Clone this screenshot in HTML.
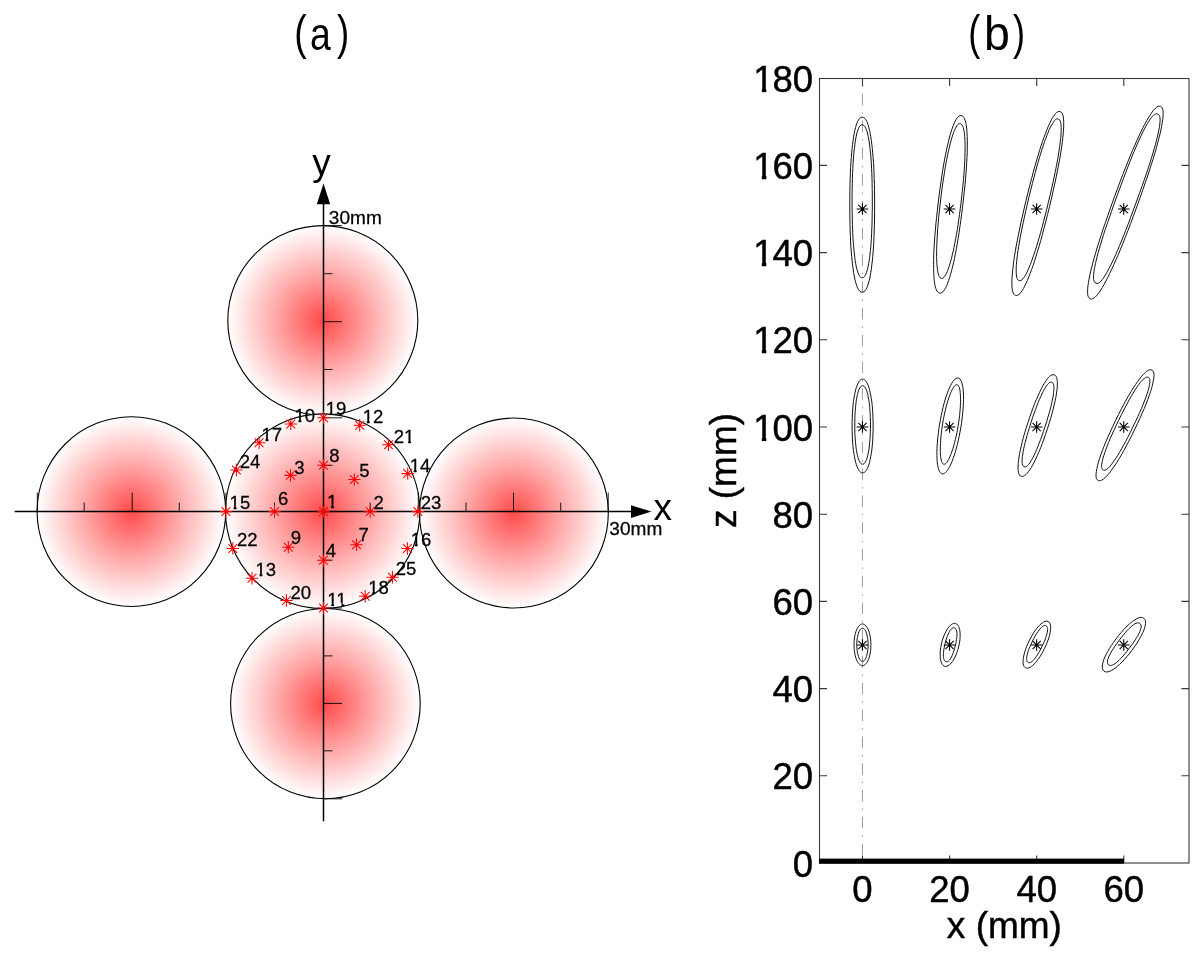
<!DOCTYPE html>
<html><head><meta charset="utf-8"><title>figure</title>
<style>
html,body{margin:0;padding:0;background:#fff;}
body{width:1204px;height:959px;overflow:hidden;position:relative;font-family:"Liberation Sans",sans-serif;}
svg{position:absolute;left:0;top:0;}
text{font-family:"Liberation Sans",sans-serif;fill:#000;}
.tk{font-size:36.5px;stroke:#000;stroke-width:0.45px;}
.lab{font-size:37px;stroke:#000;stroke-width:0.45px;}
.num{font-size:18px;stroke:#000;stroke-width:0.25px;}
.mm{font-size:18px;stroke:#000;stroke-width:0.25px;}
.ttl{font-size:48px;}
.ax{font-size:37px;}
</style></head><body>
<svg width="1204" height="959" viewBox="0 0 1204 959">
<defs>
<radialGradient id="g" cx="50%" cy="50%" r="50%">
<stop offset="0" stop-color="#ff4a4a"/>
<stop offset="0.5" stop-color="#ffa8a8"/>
<stop offset="1" stop-color="#ffffff"/>
</radialGradient>
</defs>

<defs><clipPath id="c1"><rect x="-2.00" y="-18.00" width="16.01" height="15.25"/><rect x="3.92" y="-3.75" width="2.80" height="4.75"/></clipPath><clipPath id="c10"><rect x="-2.00" y="-18.00" width="12.01" height="15.25"/><rect x="3.92" y="-3.75" width="2.80" height="4.75"/><rect x="10.01" y="-18.00" width="14.01" height="23.40"/></clipPath><clipPath id="c11"><rect x="-2.00" y="-18.00" width="12.01" height="15.25"/><rect x="3.92" y="-3.75" width="2.80" height="4.75"/><rect x="10.01" y="-18.00" width="14.01" height="15.25"/><rect x="13.93" y="-3.75" width="2.80" height="4.75"/></clipPath><clipPath id="c01"><rect x="-2.00" y="-18.00" width="12.01" height="23.40"/><rect x="10.01" y="-18.00" width="14.01" height="15.25"/><rect x="13.93" y="-3.75" width="2.80" height="4.75"/></clipPath><clipPath id="c1b"><rect x="-2.00" y="-36.50" width="26.30" height="32.36"/><rect x="8.56" y="-5.14" width="4.45" height="6.14"/></clipPath></defs>
<g id="panelA">
<ellipse cx="131.4" cy="511.6" rx="94.3" ry="94.9" fill="url(#g)" stroke="#000" stroke-width="1.1"/>
<ellipse cx="513.9" cy="513.0" rx="94.4" ry="95.0" fill="url(#g)" stroke="#000" stroke-width="1.1"/>
<ellipse cx="322.8" cy="320.4" rx="95.0" ry="94.8" fill="url(#g)" stroke="#000" stroke-width="1.1"/>
<ellipse cx="325.4" cy="703.6" rx="94.8" ry="95.1" fill="url(#g)" stroke="#000" stroke-width="1.1"/>
<ellipse cx="322.7" cy="511.2" rx="97.2" ry="97.3" fill="url(#g)" stroke="#000" stroke-width="1.1"/>
<path d="M14.7 511.6H635M323.5 821.3V200" stroke="#000" stroke-width="1.5" fill="none"/>
<path d="M651.5 511.6L631 505.3L631 517.9Z" fill="#000"/>
<path d="M323.5 183.6L316.8 204.2L330.2 204.2Z" fill="#000"/>
<path d="M37.3 511.6v-19M84.2 511.6v-9M132.2 511.6v-19M179.3 511.6v-9M225.9 511.6v-19M274.5 511.6v-9M323.5 511.6v-19M370.2 511.6v-9M418.3 511.6v-19M466.0 511.6v-9M513.5 511.6v-19M560.7 511.6v-9M608.2 511.6v-19M323.5 225.6h18.5M323.5 273.7h9.0M323.5 321.7h18.5M323.5 369.5h9.0M323.5 417.8h18.5M323.5 465.3h9.0M323.5 511.6h18.5M323.5 560.2h9.0M323.5 608.0h18.5M323.5 655.9h9.0M323.5 703.4h18.5M323.5 750.8h9.0M323.5 798.8h18.5" stroke="#000" stroke-width="0.9" fill="none"/>
<path d="M317.30 511.60L329.70 511.60M319.12 507.22L327.88 515.98M323.50 505.40L323.50 517.80M327.88 507.22L319.12 515.98M364.00 511.60L376.40 511.60M365.82 507.22L374.58 515.98M370.20 505.40L370.20 517.80M374.58 507.22L365.82 515.98M284.30 475.35L296.70 475.35M286.12 470.97L294.88 479.73M290.50 469.15L290.50 481.55M294.88 470.97L286.12 479.73M317.30 560.20L329.70 560.20M319.12 555.82L327.88 564.58M323.50 554.00L323.50 566.40M327.88 555.82L319.12 564.58M348.10 479.50L360.50 479.50M349.92 475.12L358.68 483.88M354.30 473.30L354.30 485.70M358.68 475.12L349.92 483.88M268.30 511.60L280.70 511.60M270.12 507.22L278.88 515.98M274.50 505.40L274.50 517.80M278.88 507.22L270.12 515.98M350.30 544.80L362.70 544.80M352.12 540.42L360.88 549.18M356.50 538.60L356.50 551.00M360.88 540.42L352.12 549.18M317.30 465.30L329.70 465.30M319.12 460.92L327.88 469.68M323.50 459.10L323.50 471.50M327.88 460.92L319.12 469.68M282.10 547.15L294.50 547.15M283.92 542.77L292.68 551.53M288.30 540.95L288.30 553.35M292.68 542.77L283.92 551.53M284.60 423.90L297.00 423.90M286.42 419.52L295.18 428.28M290.80 417.70L290.80 430.10M295.18 419.52L286.42 428.28M317.30 608.00L329.70 608.00M319.12 603.62L327.88 612.38M323.50 601.80L323.50 614.20M327.88 603.62L319.12 612.38M353.50 425.30L365.90 425.30M355.32 420.92L364.08 429.68M359.70 419.10L359.70 431.50M364.08 420.92L355.32 429.68M245.80 578.30L258.20 578.30M247.62 573.92L256.38 582.68M252.00 572.10L252.00 584.50M256.38 573.92L247.62 582.68M401.50 473.60L413.90 473.60M403.32 469.22L412.08 477.98M407.70 467.40L407.70 479.80M412.08 469.22L403.32 477.98M219.70 511.60L232.10 511.60M221.52 507.22L230.28 515.98M225.90 505.40L225.90 517.80M230.28 507.22L221.52 515.98M401.20 548.55L413.60 548.55M403.02 544.17L411.78 552.93M407.40 542.35L407.40 554.75M411.78 544.17L403.02 552.93M252.90 442.70L265.30 442.70M254.72 438.32L263.48 447.08M259.10 436.50L259.10 448.90M263.48 438.32L254.72 447.08M359.00 596.20L371.40 596.20M360.82 591.82L369.58 600.58M365.20 590.00L365.20 602.40M369.58 591.82L360.82 600.58M317.30 417.80L329.70 417.80M319.12 413.42L327.88 422.18M323.50 411.60L323.50 424.00M327.88 413.42L319.12 422.18M280.30 600.50L292.70 600.50M282.12 596.12L290.88 604.88M286.50 594.30L286.50 606.70M290.88 596.12L282.12 604.88M382.30 444.70L394.70 444.70M384.12 440.32L392.88 449.08M388.50 438.50L388.50 450.90M392.88 440.32L384.12 449.08M226.60 548.40L239.00 548.40M228.42 544.02L237.18 552.78M232.80 542.20L232.80 554.60M237.18 544.02L228.42 552.78M411.70 511.60L424.10 511.60M413.52 507.22L422.28 515.98M417.90 505.40L417.90 517.80M422.28 507.22L413.52 515.98M230.20 470.00L242.60 470.00M232.02 465.62L240.78 474.38M236.40 463.80L236.40 476.20M240.78 465.62L232.02 474.38M386.25 577.20L398.65 577.20M388.07 572.82L396.83 581.58M392.45 571.00L392.45 583.40M396.83 572.82L388.07 581.58" stroke="#ff0000" stroke-width="1.05" fill="none"/>
<text class="num" transform="translate(326.95 508.05) scale(1.03 1)" clip-path="url(#c1)">1</text>
<text class="num" transform="translate(373.40 508.55) scale(1.03 1)">2</text>
<text class="num" transform="translate(294.30 473.75) scale(1.03 1)">3</text>
<text class="num" transform="translate(325.80 556.90) scale(1.03 1)">4</text>
<text class="num" transform="translate(359.30 477.35) scale(1.03 1)">5</text>
<text class="num" transform="translate(278.10 505.35) scale(1.03 1)">6</text>
<text class="num" transform="translate(358.60 541.45) scale(1.03 1)">7</text>
<text class="num" transform="translate(329.30 461.85) scale(1.03 1)">8</text>
<text class="num" transform="translate(290.70 543.75) scale(1.03 1)">9</text>
<text class="num" transform="translate(294.40 421.65) scale(1.03 1)" clip-path="url(#c10)">10</text>
<text class="num" transform="translate(327.20 605.55) scale(1.03 1)" clip-path="url(#c11)">11</text>
<text class="num" transform="translate(362.80 423.45) scale(1.03 1)" clip-path="url(#c10)">12</text>
<text class="num" transform="translate(255.45 576.25) scale(1.03 1)" clip-path="url(#c10)">13</text>
<text class="num" transform="translate(409.70 471.95) scale(1.03 1)" clip-path="url(#c10)">14</text>
<text class="num" transform="translate(229.60 509.15) scale(1.03 1)" clip-path="url(#c10)">15</text>
<text class="num" transform="translate(410.70 546.25) scale(1.03 1)" clip-path="url(#c10)">16</text>
<text class="num" transform="translate(261.50 440.55) scale(1.03 1)" clip-path="url(#c10)">17</text>
<text class="num" transform="translate(368.20 593.65) scale(1.03 1)" clip-path="url(#c10)">18</text>
<text class="num" transform="translate(325.70 414.50) scale(1.03 1)" clip-path="url(#c10)">19</text>
<text class="num" transform="translate(290.50 598.65) scale(1.03 1)">20</text>
<text class="num" transform="translate(393.80 442.65) scale(1.03 1)" clip-path="url(#c01)">21</text>
<text class="num" transform="translate(237.05 545.95) scale(1.03 1)">22</text>
<text class="num" transform="translate(420.70 509.45) scale(1.03 1)">23</text>
<text class="num" transform="translate(239.80 468.25) scale(1.03 1)">24</text>
<text class="num" transform="translate(395.70 574.90) scale(1.03 1)">25</text>
<text class="mm" transform="translate(328.8 223.6) scale(1.06 1)">30mm</text>
<text class="mm" transform="translate(609.3 534.8) scale(1.06 1)">30mm</text>
<text class="ax" x="653.5" y="520.3">x</text>
<text class="ax" x="312.2" y="175">y</text>
<text class="ttl" transform="translate(294.28 49.1) scale(0.778 1.000)">(</text>
<text class="ttl" transform="translate(310.11 50.4) scale(0.779 0.945)">a</text>
<text class="ttl" transform="translate(337.09 49.1) scale(0.762 1.000)">)</text>
</g>
<g id="panelB">
<rect x="819.5" y="78.5" width="369.5" height="784.5" fill="none" stroke="#383838" stroke-width="1.1"/>
<path d="M862.5 863V855.5M862.5 78.5V86.0M949.6 863V855.5M949.6 78.5V86.0M1036.7 863V855.5M1036.7 78.5V86.0M1123.8 863V855.5M1123.8 78.5V86.0M819.5 775.8H827.0M1189 775.8H1181.5M819.5 688.6H827.0M1189 688.6H1181.5M819.5 601.4H827.0M1189 601.4H1181.5M819.5 514.2H827.0M1189 514.2H1181.5M819.5 427.0H827.0M1189 427.0H1181.5M819.5 339.8H827.0M1189 339.8H1181.5M819.5 252.6H827.0M1189 252.6H1181.5M819.5 165.4H827.0M1189 165.4H1181.5" stroke="#383838" stroke-width="1.1" fill="none"/>
<path d="M862.45 78.5V863" stroke="#666" stroke-width="0.65" stroke-dasharray="11.5 6.84 1.6 6.84" stroke-dashoffset="11.5" fill="none"/>
<rect x="819" y="858.6" width="305" height="5.1" fill="#000"/>
<g fill="none" stroke="#111" stroke-width="1"><path d="M862.2 117.2L863.3 117.4L864.2 117.9L865.1 118.7L865.9 119.9L866.7 121.3L867.5 123.1L868.2 125.3L868.9 127.7L869.6 130.4L870.2 133.5L870.8 136.8L871.3 140.4L871.8 144.3L872.3 148.4L872.7 152.8L873.1 157.4L873.5 162.3L873.8 167.4L874.0 172.8L874.2 178.4L874.4 184.2L874.5 190.4L874.6 197.0L874.6 204.7L874.6 212.4L874.5 219.0L874.4 225.2L874.2 231.0L874.0 236.6L873.8 242.0L873.5 247.1L873.1 252.0L872.7 256.6L872.3 261.0L871.8 265.1L871.3 269.0L870.8 272.6L870.2 275.9L869.6 279.0L868.9 281.7L868.2 284.1L867.5 286.3L866.7 288.1L865.9 289.5L865.1 290.7L864.2 291.5L863.3 292.0L862.2 292.2L861.1 292.0L860.2 291.5L859.3 290.7L858.5 289.5L857.7 288.1L856.9 286.3L856.2 284.1L855.5 281.7L854.8 279.0L854.2 275.9L853.6 272.6L853.1 269.0L852.6 265.1L852.1 261.0L851.7 256.6L851.3 252.0L850.9 247.1L850.6 242.0L850.4 236.6L850.2 231.0L850.0 225.2L849.9 219.0L849.8 212.4L849.8 204.7L849.8 197.0L849.9 190.4L850.0 184.2L850.2 178.4L850.4 172.8L850.6 167.4L850.9 162.3L851.3 157.4L851.7 152.8L852.1 148.4L852.6 144.3L853.1 140.4L853.6 136.8L854.2 133.5L854.8 130.4L855.5 127.7L856.2 125.3L856.9 123.1L857.7 121.3L858.5 119.9L859.3 118.7L860.2 117.9L861.1 117.4Z"/><path d="M862.2 124.8L863.1 124.9L863.9 125.4L864.6 126.1L865.2 127.1L865.9 128.4L866.5 130.0L867.1 131.8L867.7 134.0L868.2 136.4L868.7 139.0L869.2 141.9L869.6 145.1L870.0 148.5L870.4 152.1L870.8 155.9L871.1 160.0L871.4 164.2L871.6 168.7L871.8 173.4L872.0 178.3L872.1 183.4L872.2 188.7L872.3 194.5L872.3 201.2L872.3 208.0L872.2 213.8L872.1 219.1L872.0 224.2L871.8 229.1L871.6 233.8L871.4 238.3L871.1 242.5L870.8 246.6L870.4 250.4L870.0 254.0L869.6 257.4L869.2 260.6L868.7 263.5L868.2 266.1L867.7 268.5L867.1 270.7L866.5 272.5L865.9 274.1L865.2 275.4L864.6 276.4L863.9 277.1L863.1 277.6L862.2 277.7L861.3 277.6L860.5 277.1L859.8 276.4L859.2 275.4L858.5 274.1L857.9 272.5L857.3 270.7L856.7 268.5L856.2 266.1L855.7 263.5L855.2 260.6L854.8 257.4L854.4 254.0L854.0 250.4L853.6 246.6L853.3 242.5L853.0 238.3L852.8 233.8L852.6 229.1L852.4 224.2L852.3 219.1L852.2 213.8L852.1 208.0L852.1 201.3L852.1 194.5L852.2 188.7L852.3 183.4L852.4 178.3L852.6 173.4L852.8 168.7L853.0 164.2L853.3 160.0L853.6 155.9L854.0 152.1L854.4 148.5L854.8 145.1L855.2 141.9L855.7 139.0L856.2 136.4L856.7 134.0L857.3 131.8L857.9 130.0L858.5 128.4L859.2 127.1L859.8 126.1L860.5 125.4L861.3 124.9Z"/><path d="M961.1 115.6L962.2 115.9L963.1 116.5L963.8 117.5L964.5 118.7L965.1 120.3L965.7 122.3L966.1 124.5L966.5 127.0L966.8 129.9L967.0 133.0L967.2 136.4L967.3 140.1L967.3 144.1L967.3 148.3L967.2 152.8L967.0 157.6L966.7 162.6L966.4 167.8L966.0 173.2L965.5 178.9L965.0 184.9L964.3 191.2L963.6 197.9L962.7 205.8L961.7 213.8L960.8 220.5L959.9 226.7L959.1 232.6L958.2 238.3L957.3 243.7L956.4 248.8L955.4 253.7L954.5 258.4L953.5 262.8L952.5 266.9L951.6 270.7L950.6 274.3L949.6 277.6L948.6 280.6L947.6 283.3L946.7 285.7L945.7 287.7L944.7 289.4L943.8 290.8L942.8 291.9L941.9 292.6L940.9 293.0L939.8 293.1L938.7 292.8L937.8 292.2L937.1 291.2L936.4 290.0L935.8 288.4L935.2 286.4L934.8 284.2L934.4 281.7L934.1 278.8L933.9 275.7L933.7 272.3L933.6 268.6L933.6 264.6L933.6 260.4L933.7 255.9L933.9 251.1L934.2 246.1L934.5 240.9L934.9 235.5L935.4 229.8L935.9 223.8L936.6 217.5L937.3 210.8L938.2 202.9L939.2 194.9L940.1 188.2L941.0 182.0L941.8 176.1L942.7 170.4L943.6 165.0L944.5 159.9L945.5 155.0L946.4 150.3L947.4 145.9L948.4 141.8L949.3 138.0L950.3 134.4L951.3 131.1L952.3 128.1L953.3 125.4L954.2 123.0L955.2 121.0L956.2 119.3L957.1 117.9L958.1 116.8L959.0 116.1L960.0 115.7Z"/><path d="M960.2 123.6L961.0 123.9L961.7 124.4L962.3 125.3L962.9 126.4L963.3 127.8L963.8 129.5L964.1 131.5L964.5 133.8L964.7 136.3L964.9 139.2L965.0 142.2L965.1 145.5L965.1 149.1L965.0 152.8L964.9 156.8L964.8 161.0L964.5 165.4L964.2 170.0L963.9 174.7L963.5 179.7L963.0 184.8L962.4 190.2L961.8 195.8L961.1 202.2L960.3 208.6L959.5 214.3L958.8 219.6L958.0 224.7L957.3 229.6L956.5 234.3L955.7 238.8L954.8 243.2L954.0 247.3L953.2 251.2L952.3 254.8L951.5 258.3L950.6 261.5L949.8 264.4L948.9 267.1L948.1 269.5L947.3 271.6L946.4 273.5L945.6 275.0L944.8 276.3L944.0 277.3L943.2 278.0L942.4 278.3L941.5 278.4L940.7 278.1L940.0 277.6L939.4 276.7L938.8 275.6L938.4 274.2L937.9 272.5L937.6 270.5L937.3 268.2L937.0 265.7L936.8 262.8L936.7 259.8L936.6 256.5L936.6 252.9L936.7 249.2L936.8 245.2L937.0 241.0L937.2 236.6L937.5 232.0L937.8 227.3L938.3 222.3L938.7 217.2L939.3 211.8L939.9 206.2L940.7 199.8L941.4 193.4L942.2 187.7L942.9 182.4L943.7 177.3L944.5 172.4L945.2 167.7L946.0 163.2L946.9 158.8L947.7 154.7L948.5 150.8L949.4 147.2L950.2 143.7L951.1 140.5L951.9 137.6L952.8 134.9L953.6 132.5L954.5 130.4L955.3 128.5L956.1 127.0L956.9 125.7L957.7 124.7L958.5 124.0L959.3 123.7Z"/><path d="M1059.9 111.5L1061.0 112.0L1061.7 112.7L1062.4 113.8L1062.9 115.2L1063.3 116.9L1063.5 118.9L1063.7 121.3L1063.7 123.9L1063.7 126.9L1063.5 130.2L1063.2 133.8L1062.8 137.6L1062.3 141.8L1061.8 146.2L1061.1 150.8L1060.3 155.7L1059.4 160.9L1058.3 166.3L1057.2 172.0L1056.0 177.9L1054.7 184.1L1053.2 190.7L1051.6 197.8L1049.6 206.3L1047.5 214.8L1045.7 221.8L1044.0 228.3L1042.4 234.5L1040.8 240.3L1039.2 245.9L1037.6 251.1L1036.1 256.2L1034.6 260.9L1033.1 265.4L1031.6 269.6L1030.1 273.5L1028.7 277.1L1027.4 280.4L1026.0 283.4L1024.7 286.1L1023.5 288.4L1022.3 290.4L1021.1 292.1L1020.0 293.5L1018.9 294.5L1017.8 295.1L1016.8 295.4L1015.7 295.4L1014.6 294.9L1013.9 294.2L1013.2 293.1L1012.7 291.7L1012.3 290.0L1012.1 288.0L1011.9 285.6L1011.9 283.0L1011.9 280.0L1012.1 276.7L1012.4 273.1L1012.8 269.3L1013.3 265.1L1013.8 260.7L1014.5 256.1L1015.3 251.2L1016.2 246.0L1017.3 240.6L1018.4 234.9L1019.6 229.0L1020.9 222.8L1022.4 216.2L1024.0 209.1L1026.0 200.6L1028.1 192.1L1029.9 185.1L1031.6 178.6L1033.2 172.4L1034.8 166.6L1036.4 161.0L1038.0 155.8L1039.5 150.7L1041.0 146.0L1042.5 141.5L1044.0 137.3L1045.5 133.4L1046.9 129.8L1048.2 126.5L1049.6 123.5L1050.9 120.8L1052.1 118.5L1053.3 116.5L1054.5 114.8L1055.6 113.4L1056.7 112.4L1057.8 111.8L1058.8 111.5Z"/><path d="M1058.1 118.9L1059.0 119.3L1059.7 119.9L1060.2 120.9L1060.6 122.1L1060.9 123.5L1061.1 125.3L1061.2 127.3L1061.2 129.7L1061.1 132.2L1061.0 135.1L1060.7 138.2L1060.3 141.6L1059.9 145.2L1059.3 149.0L1058.7 153.1L1058.0 157.4L1057.2 161.9L1056.3 166.6L1055.3 171.6L1054.2 176.8L1053.0 182.3L1051.7 188.1L1050.3 194.4L1048.4 202.1L1046.6 209.8L1045.0 216.0L1043.5 221.8L1042.1 227.2L1040.7 232.4L1039.3 237.2L1037.9 241.9L1036.6 246.3L1035.3 250.4L1034.0 254.3L1032.7 258.0L1031.5 261.4L1030.3 264.6L1029.1 267.5L1028.0 270.1L1026.9 272.4L1025.8 274.5L1024.8 276.2L1023.8 277.7L1022.9 278.9L1021.9 279.8L1021.1 280.4L1020.2 280.6L1019.2 280.6L1018.4 280.2L1017.7 279.6L1017.2 278.6L1016.8 277.4L1016.5 276.0L1016.3 274.2L1016.2 272.2L1016.2 269.8L1016.2 267.3L1016.4 264.4L1016.7 261.3L1017.0 257.9L1017.5 254.3L1018.0 250.5L1018.7 246.4L1019.4 242.1L1020.2 237.6L1021.1 232.9L1022.1 227.9L1023.2 222.7L1024.4 217.2L1025.7 211.4L1027.1 205.1L1028.9 197.4L1030.8 189.7L1032.4 183.5L1033.9 177.7L1035.3 172.3L1036.7 167.1L1038.1 162.3L1039.4 157.6L1040.8 153.2L1042.1 149.1L1043.4 145.2L1044.6 141.5L1045.9 138.1L1047.1 134.9L1048.3 132.0L1049.4 129.4L1050.5 127.1L1051.6 125.0L1052.6 123.3L1053.6 121.8L1054.5 120.6L1055.4 119.7L1056.3 119.1L1057.2 118.9Z"/><path d="M1160.4 106.4L1161.4 107.0L1162.1 107.9L1162.6 109.0L1163.0 110.5L1163.1 112.4L1163.1 114.5L1163.0 117.0L1162.7 119.8L1162.2 122.9L1161.6 126.3L1160.9 130.0L1160.0 134.0L1158.9 138.3L1157.7 142.9L1156.4 147.8L1154.9 152.9L1153.3 158.3L1151.5 163.9L1149.6 169.9L1147.6 176.1L1145.3 182.7L1142.9 189.7L1140.2 197.3L1136.8 206.8L1133.3 216.3L1130.5 223.8L1127.9 230.7L1125.3 237.2L1122.9 243.3L1120.6 249.0L1118.3 254.5L1116.0 259.7L1113.9 264.6L1111.8 269.1L1109.7 273.4L1107.8 277.4L1105.9 281.0L1104.1 284.4L1102.4 287.4L1100.7 290.0L1099.2 292.4L1097.7 294.4L1096.3 296.0L1095.0 297.3L1093.8 298.2L1092.6 298.8L1091.5 299.0L1090.3 298.8L1089.3 298.2L1088.6 297.3L1088.1 296.2L1087.7 294.7L1087.6 292.8L1087.6 290.7L1087.7 288.2L1088.0 285.4L1088.5 282.3L1089.1 278.9L1089.8 275.2L1090.7 271.2L1091.8 266.9L1093.0 262.3L1094.3 257.4L1095.8 252.3L1097.4 246.9L1099.2 241.3L1101.1 235.3L1103.1 229.1L1105.4 222.5L1107.8 215.5L1110.5 207.9L1113.9 198.4L1117.4 188.9L1120.2 181.4L1122.8 174.5L1125.4 168.0L1127.8 161.9L1130.1 156.2L1132.4 150.7L1134.7 145.5L1136.8 140.6L1138.9 136.1L1141.0 131.8L1142.9 127.8L1144.8 124.2L1146.6 120.8L1148.3 117.8L1150.0 115.2L1151.5 112.8L1153.0 110.8L1154.4 109.2L1155.7 107.9L1156.9 107.0L1158.1 106.4L1159.2 106.2Z"/><path d="M1157.6 114.1L1158.6 114.6L1159.2 115.3L1159.7 116.3L1159.9 117.5L1160.1 119.1L1160.1 120.9L1159.9 122.9L1159.7 125.2L1159.3 127.8L1158.7 130.7L1158.1 133.8L1157.3 137.2L1156.4 140.8L1155.4 144.7L1154.2 148.8L1152.9 153.2L1151.5 157.8L1150.0 162.7L1148.3 167.9L1146.5 173.3L1144.5 179.2L1142.3 185.5L1139.7 192.6L1136.3 202.1L1132.8 211.5L1130.2 218.6L1127.9 224.8L1125.6 230.6L1123.5 235.9L1121.5 241.0L1119.5 245.7L1117.6 250.2L1115.8 254.4L1114.0 258.3L1112.3 261.9L1110.7 265.3L1109.1 268.3L1107.6 271.1L1106.2 273.7L1104.8 275.9L1103.5 277.9L1102.3 279.5L1101.2 280.9L1100.1 282.0L1099.1 282.8L1098.1 283.2L1097.2 283.4L1096.0 283.1L1095.0 282.6L1094.4 281.9L1094.0 280.9L1093.7 279.7L1093.5 278.1L1093.5 276.3L1093.7 274.3L1093.9 272.0L1094.3 269.4L1094.9 266.5L1095.5 263.4L1096.3 260.0L1097.2 256.4L1098.2 252.5L1099.4 248.4L1100.7 244.0L1102.1 239.4L1103.6 234.5L1105.3 229.3L1107.2 223.9L1109.2 218.0L1111.4 211.7L1113.9 204.6L1117.3 195.1L1120.8 185.7L1123.4 178.6L1125.8 172.4L1128.0 166.6L1130.1 161.3L1132.1 156.2L1134.1 151.5L1136.0 147.0L1137.8 142.8L1139.6 138.9L1141.3 135.3L1142.9 131.9L1144.5 128.9L1146.0 126.1L1147.4 123.5L1148.8 121.3L1150.1 119.3L1151.3 117.7L1152.4 116.3L1153.5 115.2L1154.5 114.4L1155.5 114.0L1156.5 113.8Z"/><path d="M862.6 379.1L863.6 379.3L864.6 379.8L865.5 380.6L866.4 381.8L867.2 383.3L868.0 385.1L868.8 387.2L869.5 389.6L870.1 392.3L870.7 395.2L871.3 398.4L871.8 401.8L872.2 405.3L872.5 409.1L872.8 413.1L872.9 417.1L873.1 421.4L873.1 426.0L873.1 430.6L872.9 434.9L872.8 438.9L872.5 442.9L872.2 446.7L871.8 450.2L871.3 453.6L870.7 456.8L870.1 459.7L869.5 462.4L868.8 464.8L868.0 466.9L867.2 468.7L866.4 470.2L865.5 471.4L864.6 472.2L863.6 472.7L862.6 472.9L861.6 472.7L860.6 472.2L859.7 471.4L858.8 470.2L858.0 468.7L857.2 466.9L856.4 464.8L855.7 462.4L855.1 459.7L854.5 456.8L853.9 453.6L853.4 450.2L853.0 446.7L852.7 442.9L852.4 438.9L852.3 434.9L852.1 430.6L852.1 426.0L852.1 421.4L852.3 417.1L852.4 413.1L852.7 409.1L853.0 405.3L853.4 401.8L853.9 398.4L854.5 395.2L855.1 392.3L855.7 389.6L856.4 387.2L857.2 385.1L858.0 383.3L858.8 381.8L859.7 380.6L860.6 379.8L861.6 379.3Z"/><path d="M862.6 385.7L863.4 385.8L864.1 386.3L864.8 387.0L865.4 388.0L866.1 389.2L866.7 390.7L867.2 392.5L867.8 394.5L868.2 396.7L868.7 399.2L869.1 401.8L869.4 404.7L869.7 407.7L870.0 410.8L870.2 414.1L870.3 417.5L870.4 421.1L870.5 424.9L870.4 428.8L870.3 432.4L870.2 435.8L870.0 439.1L869.7 442.2L869.4 445.2L869.1 448.1L868.7 450.7L868.2 453.2L867.8 455.4L867.2 457.4L866.7 459.2L866.1 460.7L865.4 461.9L864.8 462.9L864.1 463.6L863.4 464.1L862.6 464.2L861.8 464.1L861.1 463.6L860.4 462.9L859.8 461.9L859.1 460.7L858.5 459.2L858.0 457.4L857.4 455.4L857.0 453.2L856.5 450.7L856.1 448.1L855.8 445.2L855.5 442.2L855.2 439.1L855.0 435.8L854.9 432.4L854.8 428.8L854.8 425.0L854.8 421.1L854.9 417.5L855.0 414.1L855.2 410.8L855.5 407.7L855.8 404.7L856.1 401.8L856.5 399.2L857.0 396.7L857.4 394.5L858.0 392.5L858.5 390.7L859.1 389.2L859.8 388.0L860.4 387.0L861.1 386.3L861.8 385.8Z"/><path d="M958.1 377.9L959.1 378.3L959.9 379.0L960.7 380.0L961.4 381.4L961.9 383.1L962.4 385.1L962.9 387.5L963.2 390.1L963.4 393.0L963.5 396.2L963.5 399.5L963.4 403.1L963.2 406.9L962.9 410.8L962.5 414.9L962.0 419.0L961.5 423.3L960.8 427.7L960.0 432.0L959.2 436.2L958.3 440.3L957.4 444.3L956.4 448.1L955.4 451.7L954.3 455.1L953.2 458.3L952.1 461.3L950.9 464.0L949.8 466.3L948.7 468.4L947.5 470.2L946.4 471.6L945.3 472.7L944.3 473.5L943.2 473.8L942.3 473.9L941.3 473.5L940.5 472.8L939.7 471.8L939.0 470.4L938.5 468.7L938.0 466.7L937.5 464.3L937.2 461.7L937.0 458.8L936.9 455.6L936.9 452.3L937.0 448.7L937.2 444.9L937.5 441.0L937.9 436.9L938.4 432.8L938.9 428.5L939.6 424.1L940.4 419.8L941.2 415.6L942.1 411.5L943.0 407.5L944.0 403.7L945.0 400.1L946.1 396.7L947.2 393.5L948.3 390.5L949.5 387.8L950.6 385.5L951.7 383.4L952.9 381.6L954.0 380.2L955.1 379.1L956.1 378.3L957.2 378.0Z"/><path d="M957.0 384.7L957.7 385.0L958.3 385.5L958.8 386.4L959.3 387.6L959.7 389.0L960.0 390.7L960.2 392.6L960.4 394.8L960.5 397.3L960.6 399.9L960.5 402.7L960.4 405.7L960.2 408.8L959.9 412.1L959.6 415.4L959.2 418.8L958.7 422.3L958.1 425.8L957.5 429.2L956.9 432.7L956.2 436.0L955.4 439.3L954.6 442.5L953.8 445.5L953.0 448.4L952.1 451.0L951.2 453.5L950.3 455.8L949.4 457.8L948.6 459.6L947.7 461.1L946.9 462.3L946.1 463.3L945.3 463.9L944.5 464.2L943.8 464.3L943.2 464.0L942.6 463.5L942.1 462.6L941.6 461.4L941.2 460.0L940.9 458.3L940.6 456.4L940.4 454.2L940.3 451.7L940.3 449.1L940.4 446.3L940.5 443.3L940.7 440.2L940.9 436.9L941.3 433.6L941.7 430.2L942.2 426.7L942.7 423.2L943.3 419.8L944.0 416.3L944.7 413.0L945.5 409.7L946.2 406.5L947.1 403.5L947.9 400.6L948.8 398.0L949.7 395.5L950.5 393.2L951.4 391.2L952.3 389.4L953.2 387.9L954.0 386.7L954.8 385.7L955.6 385.1L956.3 384.8Z"/><path d="M1054.2 374.8L1055.2 375.3L1056.0 376.2L1056.5 377.3L1057.0 378.8L1057.2 380.6L1057.4 382.7L1057.3 385.1L1057.2 387.8L1056.8 390.8L1056.4 394.1L1055.8 397.6L1055.0 401.3L1054.1 405.2L1053.1 409.4L1052.0 413.8L1050.7 418.3L1049.2 423.2L1047.4 428.7L1045.6 434.2L1043.9 439.0L1042.3 443.5L1040.7 447.7L1039.0 451.6L1037.4 455.4L1035.8 458.8L1034.3 462.0L1032.7 464.9L1031.3 467.5L1029.8 469.8L1028.4 471.7L1027.1 473.4L1025.8 474.7L1024.6 475.6L1023.4 476.2L1022.3 476.4L1021.2 476.3L1020.2 475.8L1019.4 474.9L1018.9 473.8L1018.4 472.3L1018.2 470.5L1018.0 468.4L1018.1 466.0L1018.2 463.3L1018.6 460.3L1019.0 457.0L1019.6 453.5L1020.4 449.8L1021.3 445.9L1022.3 441.7L1023.4 437.3L1024.7 432.8L1026.2 427.9L1028.0 422.4L1029.8 416.9L1031.5 412.1L1033.1 407.6L1034.7 403.4L1036.4 399.5L1038.0 395.7L1039.6 392.3L1041.1 389.1L1042.7 386.2L1044.1 383.6L1045.6 381.3L1047.0 379.4L1048.3 377.7L1049.6 376.4L1050.8 375.5L1052.0 374.9L1053.1 374.7Z"/><path d="M1051.8 382.3L1052.6 382.7L1053.1 383.3L1053.5 384.2L1053.8 385.4L1053.9 386.8L1053.9 388.5L1053.8 390.4L1053.6 392.6L1053.3 395.0L1052.9 397.6L1052.3 400.4L1051.6 403.5L1050.9 406.7L1050.0 410.1L1049.0 413.8L1047.8 417.6L1046.6 421.8L1045.0 426.8L1043.3 431.8L1041.9 435.9L1040.5 439.7L1039.2 443.2L1037.9 446.5L1036.6 449.6L1035.4 452.4L1034.2 455.1L1033.0 457.4L1031.8 459.6L1030.7 461.4L1029.7 463.1L1028.7 464.4L1027.7 465.5L1026.8 466.3L1025.9 466.8L1025.1 467.0L1024.3 466.8L1023.5 466.4L1023.0 465.8L1022.6 464.9L1022.3 463.7L1022.1 462.3L1022.1 460.6L1022.2 458.7L1022.4 456.5L1022.8 454.1L1023.2 451.5L1023.7 448.7L1024.4 445.6L1025.2 442.4L1026.1 439.0L1027.1 435.3L1028.2 431.5L1029.5 427.3L1031.1 422.3L1032.7 417.3L1034.2 413.2L1035.5 409.4L1036.8 405.9L1038.1 402.6L1039.4 399.5L1040.7 396.7L1041.9 394.0L1043.1 391.7L1044.2 389.5L1045.3 387.7L1046.4 386.0L1047.4 384.7L1048.3 383.6L1049.2 382.8L1050.1 382.3L1050.9 382.1Z"/><path d="M1151.8 370.1L1152.8 370.8L1153.4 371.8L1153.8 373.1L1154.0 374.8L1153.9 376.9L1153.6 379.2L1153.1 381.9L1152.5 384.9L1151.6 388.2L1150.5 391.8L1149.2 395.7L1147.7 399.7L1146.0 404.1L1144.2 408.6L1142.1 413.4L1139.9 418.4L1137.4 423.7L1134.5 429.9L1131.5 436.0L1128.8 441.2L1126.3 446.0L1123.8 450.6L1121.4 454.9L1119.0 458.9L1116.7 462.6L1114.5 465.9L1112.3 469.0L1110.3 471.8L1108.4 474.2L1106.5 476.2L1104.8 477.9L1103.3 479.2L1101.8 480.1L1100.5 480.6L1099.3 480.8L1098.2 480.4L1097.2 479.7L1096.6 478.7L1096.2 477.4L1096.0 475.7L1096.1 473.6L1096.4 471.3L1096.9 468.6L1097.5 465.6L1098.4 462.3L1099.5 458.7L1100.8 454.8L1102.3 450.8L1104.0 446.4L1105.8 441.9L1107.9 437.1L1110.1 432.1L1112.6 426.8L1115.5 420.6L1118.5 414.5L1121.2 409.3L1123.7 404.5L1126.2 399.9L1128.6 395.6L1131.0 391.6L1133.3 387.9L1135.5 384.6L1137.7 381.5L1139.7 378.7L1141.6 376.3L1143.5 374.3L1145.2 372.6L1146.7 371.3L1148.2 370.4L1149.5 369.9L1150.7 369.7Z"/><path d="M1148.3 377.3L1149.1 377.9L1149.6 378.7L1149.8 379.8L1149.9 381.1L1149.8 382.7L1149.6 384.6L1149.1 386.7L1148.5 389.1L1147.7 391.8L1146.8 394.7L1145.7 397.8L1144.4 401.1L1143.0 404.7L1141.4 408.5L1139.7 412.5L1137.8 416.7L1135.6 421.4L1132.8 427.1L1130.1 432.8L1127.8 437.3L1125.6 441.5L1123.5 445.3L1121.5 448.9L1119.6 452.2L1117.8 455.3L1116.0 458.1L1114.3 460.6L1112.7 462.8L1111.2 464.8L1109.8 466.5L1108.5 467.9L1107.3 468.9L1106.2 469.7L1105.1 470.1L1104.2 470.3L1103.3 470.0L1102.5 469.4L1102.0 468.6L1101.7 467.5L1101.6 466.2L1101.7 464.6L1102.0 462.7L1102.4 460.6L1103.0 458.2L1103.8 455.5L1104.8 452.6L1105.9 449.5L1107.1 446.2L1108.5 442.6L1110.1 438.8L1111.9 434.8L1113.8 430.6L1116.0 425.9L1118.7 420.2L1121.5 414.5L1123.8 410.0L1126.0 405.8L1128.0 402.0L1130.0 398.4L1131.9 395.1L1133.8 392.0L1135.5 389.2L1137.2 386.7L1138.8 384.5L1140.3 382.5L1141.8 380.8L1143.1 379.4L1144.3 378.4L1145.4 377.6L1146.4 377.2L1147.3 377.0Z"/><path d="M862.5 624.0L863.4 624.1L864.3 624.5L865.2 625.2L866.1 626.1L866.9 627.2L867.7 628.5L868.4 630.1L869.1 631.9L869.6 633.8L870.1 635.8L870.4 638.0L870.7 640.2L870.8 642.5L870.9 644.9L870.8 647.2L870.7 649.5L870.4 651.7L870.1 653.9L869.6 655.9L869.1 657.8L868.4 659.6L867.7 661.2L866.9 662.5L866.1 663.6L865.2 664.5L864.3 665.2L863.4 665.6L862.5 665.7L861.5 665.6L860.6 665.2L859.7 664.5L858.8 663.6L858.0 662.5L857.2 661.2L856.5 659.6L855.8 657.8L855.3 655.9L854.8 653.9L854.5 651.7L854.2 649.5L854.1 647.2L854.0 644.9L854.1 642.5L854.2 640.2L854.5 638.0L854.8 635.8L855.3 633.8L855.8 631.9L856.5 630.1L857.2 628.5L858.0 627.2L858.8 626.1L859.7 625.2L860.6 624.5L861.5 624.1Z"/><path d="M862.5 628.2L863.1 628.3L863.7 628.6L864.3 629.1L864.9 629.8L865.5 630.7L866.0 631.8L866.4 633.1L866.9 634.5L867.2 636.0L867.5 637.6L867.8 639.3L868.0 641.1L868.1 642.9L868.1 644.8L868.1 646.7L868.0 648.5L867.8 650.3L867.5 652.0L867.2 653.6L866.9 655.1L866.4 656.5L866.0 657.8L865.5 658.9L864.9 659.8L864.3 660.5L863.7 661.0L863.1 661.3L862.5 661.4L861.8 661.3L861.2 661.0L860.6 660.5L860.0 659.8L859.4 658.9L858.9 657.8L858.5 656.5L858.0 655.1L857.7 653.6L857.4 652.0L857.1 650.3L856.9 648.5L856.8 646.7L856.8 644.8L856.8 642.9L856.9 641.1L857.1 639.3L857.4 637.6L857.7 636.0L858.0 634.5L858.5 633.1L858.9 631.8L859.4 630.7L860.0 629.8L860.6 629.1L861.2 628.6L861.8 628.3Z"/><path d="M955.4 623.4L956.4 623.8L957.2 624.4L957.9 625.3L958.6 626.4L959.1 627.8L959.6 629.4L959.9 631.1L960.1 633.1L960.1 635.2L960.1 637.4L959.9 639.7L959.6 642.1L959.1 644.5L958.6 646.9L958.0 649.3L957.2 651.7L956.4 653.9L955.5 656.0L954.5 658.0L953.5 659.9L952.4 661.5L951.3 662.9L950.2 664.1L949.1 665.1L947.9 665.8L946.9 666.2L945.8 666.4L944.9 666.3L943.9 665.9L943.1 665.3L942.4 664.4L941.7 663.3L941.2 661.9L940.7 660.3L940.4 658.6L940.2 656.6L940.2 654.5L940.2 652.3L940.4 650.0L940.7 647.6L941.2 645.2L941.7 642.8L942.3 640.4L943.1 638.0L943.9 635.8L944.8 633.7L945.8 631.7L946.8 629.8L947.9 628.2L949.0 626.8L950.1 625.6L951.2 624.6L952.4 623.9L953.4 623.5L954.5 623.3Z"/><path d="M954.3 627.9L955.0 628.2L955.6 628.6L956.0 629.2L956.4 630.0L956.7 630.9L956.9 632.0L957.0 633.2L957.0 634.6L956.9 636.1L956.8 637.8L956.5 639.6L956.2 641.5L955.8 643.5L955.2 646.0L954.6 648.4L954.0 650.5L953.4 652.3L952.8 654.0L952.1 655.5L951.5 656.9L950.8 658.1L950.2 659.2L949.5 660.0L948.8 660.7L948.1 661.3L947.5 661.6L946.8 661.7L946.0 661.6L945.3 661.3L944.8 660.9L944.3 660.3L944.0 659.5L943.7 658.6L943.5 657.5L943.4 656.3L943.4 654.9L943.4 653.4L943.6 651.7L943.8 649.9L944.1 648.0L944.6 646.0L945.1 643.5L945.8 641.1L946.3 639.0L946.9 637.2L947.6 635.5L948.2 634.0L948.9 632.6L949.5 631.4L950.2 630.3L950.9 629.5L951.5 628.8L952.2 628.2L952.9 627.9L953.6 627.8Z"/><path d="M1048.1 621.5L1049.0 622.1L1049.7 622.9L1050.2 624.0L1050.5 625.4L1050.7 627.0L1050.6 628.8L1050.4 630.7L1050.1 632.9L1049.5 635.2L1048.9 637.7L1048.0 640.2L1047.0 642.9L1045.9 645.6L1044.5 648.4L1043.1 651.2L1041.7 653.7L1040.3 656.2L1038.8 658.4L1037.3 660.4L1035.8 662.3L1034.3 663.9L1032.8 665.3L1031.4 666.4L1030.1 667.3L1028.8 667.9L1027.6 668.1L1026.6 668.1L1025.6 667.8L1024.7 667.2L1024.0 666.4L1023.5 665.3L1023.2 663.9L1023.0 662.3L1023.1 660.5L1023.3 658.6L1023.6 656.4L1024.2 654.1L1024.8 651.6L1025.7 649.1L1026.7 646.4L1027.8 643.7L1029.2 640.9L1030.6 638.1L1032.0 635.6L1033.4 633.1L1034.9 630.9L1036.4 628.9L1037.9 627.0L1039.4 625.4L1040.9 624.0L1042.3 622.9L1043.6 622.0L1044.9 621.4L1046.1 621.2L1047.1 621.2Z"/><path d="M1046.1 625.7L1046.7 626.2L1047.2 626.8L1047.4 627.5L1047.6 628.5L1047.6 629.6L1047.5 630.9L1047.3 632.4L1046.9 634.0L1046.4 635.7L1045.8 637.6L1045.1 639.6L1044.3 641.7L1043.3 643.9L1042.0 646.5L1040.8 649.1L1039.6 651.2L1038.5 653.2L1037.4 655.0L1036.3 656.6L1035.2 658.1L1034.2 659.3L1033.2 660.4L1032.2 661.3L1031.3 662.0L1030.4 662.4L1029.6 662.7L1028.9 662.7L1028.2 662.5L1027.5 662.0L1027.1 661.4L1026.8 660.7L1026.6 659.7L1026.6 658.6L1026.7 657.3L1026.9 655.8L1027.3 654.2L1027.8 652.5L1028.4 650.6L1029.1 648.6L1030.0 646.5L1031.0 644.3L1032.2 641.7L1033.5 639.1L1034.6 637.0L1035.7 635.0L1036.9 633.2L1038.0 631.6L1039.0 630.1L1040.1 628.9L1041.1 627.8L1042.0 626.9L1042.9 626.2L1043.8 625.8L1044.6 625.5L1045.3 625.5Z"/><path d="M1143.8 618.3L1144.7 619.2L1145.3 620.3L1145.5 621.7L1145.5 623.4L1145.3 625.3L1144.7 627.5L1144.0 629.8L1142.9 632.4L1141.6 635.1L1140.1 637.9L1138.4 640.9L1136.4 644.0L1134.2 647.1L1131.7 650.6L1129.1 654.0L1126.6 656.9L1124.2 659.7L1121.9 662.2L1119.6 664.4L1117.3 666.4L1115.2 668.1L1113.1 669.5L1111.2 670.6L1109.4 671.4L1107.8 671.8L1106.4 672.0L1105.1 671.7L1104.0 671.1L1103.1 670.2L1102.5 669.1L1102.3 667.7L1102.3 666.0L1102.5 664.1L1103.1 661.9L1103.8 659.6L1104.9 657.0L1106.2 654.3L1107.7 651.5L1109.4 648.5L1111.4 645.4L1113.6 642.3L1116.1 638.8L1118.7 635.4L1121.2 632.5L1123.6 629.7L1125.9 627.2L1128.2 625.0L1130.5 623.0L1132.6 621.3L1134.7 619.9L1136.6 618.8L1138.4 618.0L1140.0 617.6L1141.4 617.4L1142.7 617.7Z"/><path d="M1139.9 623.5L1140.6 624.2L1141.0 625.0L1141.2 626.0L1141.1 627.1L1140.9 628.4L1140.4 629.9L1139.8 631.6L1139.0 633.4L1138.0 635.3L1136.7 637.4L1135.4 639.7L1133.8 642.1L1131.9 644.7L1129.4 648.0L1126.9 651.3L1124.9 653.8L1123.1 656.0L1121.3 658.0L1119.6 659.7L1118.0 661.2L1116.5 662.5L1115.1 663.6L1113.8 664.4L1112.6 665.0L1111.5 665.4L1110.5 665.5L1109.6 665.3L1108.7 664.8L1108.0 664.1L1107.6 663.3L1107.5 662.3L1107.5 661.2L1107.7 659.9L1108.2 658.4L1108.8 656.7L1109.7 654.9L1110.7 653.0L1111.9 650.9L1113.3 648.6L1114.9 646.2L1116.7 643.6L1119.2 640.3L1121.7 637.0L1123.7 634.5L1125.6 632.3L1127.3 630.3L1129.0 628.6L1130.6 627.1L1132.1 625.8L1133.5 624.7L1134.8 623.9L1136.0 623.3L1137.1 622.9L1138.1 622.8L1139.0 623.0Z"/></g>
<path d="M856.65 645.00L868.25 645.00M858.35 640.90L866.55 649.10M862.45 639.20L862.45 650.80M866.55 640.90L858.35 649.10M943.75 645.00L955.35 645.00M945.45 640.90L953.65 649.10M949.55 639.20L949.55 650.80M953.65 640.90L945.45 649.10M1030.85 645.00L1042.45 645.00M1032.55 640.90L1040.75 649.10M1036.65 639.20L1036.65 650.80M1040.75 640.90L1032.55 649.10M1117.95 645.00L1129.55 645.00M1119.65 640.90L1127.85 649.10M1123.75 639.20L1123.75 650.80M1127.85 640.90L1119.65 649.10M856.65 427.00L868.25 427.00M858.35 422.90L866.55 431.10M862.45 421.20L862.45 432.80M866.55 422.90L858.35 431.10M943.75 427.00L955.35 427.00M945.45 422.90L953.65 431.10M949.55 421.20L949.55 432.80M953.65 422.90L945.45 431.10M1030.85 427.00L1042.45 427.00M1032.55 422.90L1040.75 431.10M1036.65 421.20L1036.65 432.80M1040.75 422.90L1032.55 431.10M1117.95 427.00L1129.55 427.00M1119.65 422.90L1127.85 431.10M1123.75 421.20L1123.75 432.80M1127.85 422.90L1119.65 431.10M856.65 209.00L868.25 209.00M858.35 204.90L866.55 213.10M862.45 203.20L862.45 214.80M866.55 204.90L858.35 213.10M943.75 209.00L955.35 209.00M945.45 204.90L953.65 213.10M949.55 203.20L949.55 214.80M953.65 204.90L945.45 213.10M1030.85 209.00L1042.45 209.00M1032.55 204.90L1040.75 213.10M1036.65 203.20L1036.65 214.80M1040.75 204.90L1032.55 213.10M1117.95 209.00L1129.55 209.00M1119.65 204.90L1127.85 213.10M1123.75 203.20L1123.75 214.80M1127.85 204.90L1119.65 213.10" stroke="#000" stroke-width="1.1" fill="none"/>
<text class="tk" x="813" y="876.6" text-anchor="end">0</text>
<text class="tk" x="813" y="789.4" text-anchor="end">20</text>
<text class="tk" x="813" y="702.2" text-anchor="end">40</text>
<text class="tk" x="813" y="615.0" text-anchor="end">60</text>
<text class="tk" x="813" y="527.8" text-anchor="end">80</text>
<text class="tk" transform="translate(753.30 440.6)" clip-path="url(#c1b)">1</text>
<text class="tk" x="813" y="440.6" text-anchor="end">00</text>
<text class="tk" transform="translate(753.30 353.4)" clip-path="url(#c1b)">1</text>
<text class="tk" x="813" y="353.4" text-anchor="end">20</text>
<text class="tk" transform="translate(753.30 266.2)" clip-path="url(#c1b)">1</text>
<text class="tk" x="813" y="266.2" text-anchor="end">40</text>
<text class="tk" transform="translate(753.30 179.0)" clip-path="url(#c1b)">1</text>
<text class="tk" x="813" y="179.0" text-anchor="end">60</text>
<text class="tk" transform="translate(753.30 91.8)" clip-path="url(#c1b)">1</text>
<text class="tk" x="813" y="91.8" text-anchor="end">80</text>
<text class="tk" x="862.5" y="902.2" text-anchor="middle">0</text>
<text class="tk" x="949.6" y="902.2" text-anchor="middle">20</text>
<text class="tk" x="1036.7" y="902.2" text-anchor="middle">40</text>
<text class="tk" x="1123.8" y="902.2" text-anchor="middle">60</text>
<text class="lab" x="1004.4" y="938" text-anchor="middle">x (mm)</text>
<text class="lab" transform="translate(735.5 470.5) rotate(-90)" text-anchor="middle">z (mm)</text>
<text class="ttl" transform="translate(968.25 49.1) scale(0.754 1.000)">(</text>
<text class="ttl" transform="translate(984.10 50.3) scale(0.968 1.000)">b</text>
<text class="ttl" transform="translate(1013.09 49.1) scale(0.754 1.000)">)</text>
</g>
</svg></body></html>
